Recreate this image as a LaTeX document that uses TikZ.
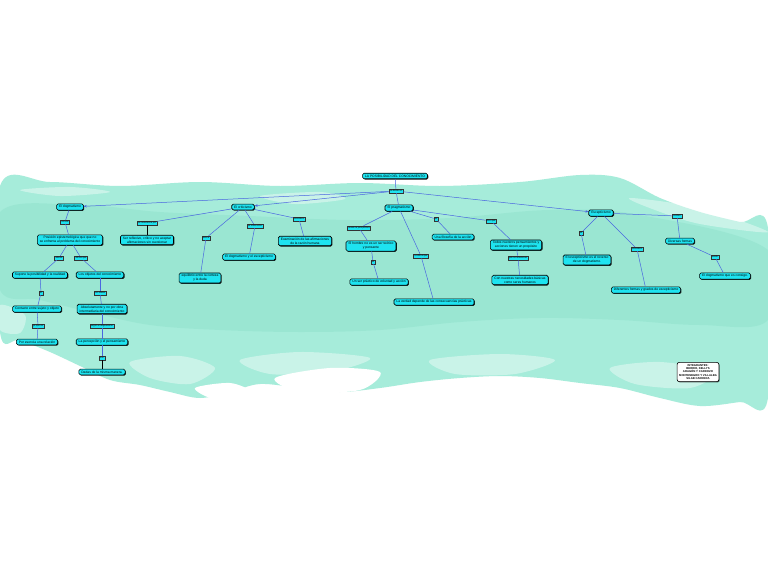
\documentclass[tikz,border=0pt]{standalone}
\usepackage{fontspec}
\setmainfont{Liberation Sans}
\usetikzlibrary{shadows,arrows.meta}
\definecolor{boxc}{HTML}{1EE3F0}
\definecolor{linec}{HTML}{4A66E0}
\definecolor{mint}{HTML}{A6ECDA}
\definecolor{mintd}{HTML}{93E3CE}
\tikzset{
 cbox/.style={draw=black, line width=0.6pt, fill=boxc, rounded corners=1.5pt, align=center,
   font=\fontsize{3.3}{3.8}\selectfont, inner xsep=2.5pt, inner ysep=1.6pt,
   drop shadow={shadow xshift=0.8pt, shadow yshift=-0.8pt, fill=black, opacity=0.85}},
 lbl/.style={draw=black!80, line width=0.25pt, fill=boxc, font=\fontsize{2.3}{2.6}\selectfont,
   inner xsep=1pt, inner ysep=1.1pt},
 conn/.style={draw=linec, line width=0.5pt},
 arr/.style={conn, -{Stealth[length=3pt,width=2.5pt]}},
 wpatch/.style={fill=white, opacity=0.4},
}
\begin{document}
\begin{tikzpicture}[x=1pt,y=-1pt]
\useasboundingbox (0,0) rectangle (768,578);
\fill[white] (0,0) rectangle (768,578);
% watercolor splash
\fill[mint] plot[smooth cycle, tension=0.55] coordinates {
 (0,186) (50,182) (120,186) (200,182) (280,186) (360,183) (440,186) (520,182) (580,175)
 (620,178) (660,198) (700,212) (740,222) (768,228) (768,398) (740,402) (700,406)
 (660,398) (620,388) (580,383) (540,378) (500,376) (460,378) (420,382) (380,388) (340,392)
 (300,388) (260,384) (230,392) (200,398) (170,392) (140,385) (110,380) (80,366) (50,352)
 (20,340) (0,332)};
\fill[mintd, opacity=0.6] plot[smooth cycle, tension=0.6] coordinates {
 (0,212) (80,205) (160,212) (250,216) (350,220) (450,218) (550,210) (640,215) (768,250)
 (768,320) (700,325) (620,320) (540,318) (460,322) (380,330) (300,332) (220,330) (150,325)
 (90,312) (40,300) (0,290)};
% white streaks
\fill[wpatch] plot[smooth cycle] coordinates {(20,190) (70,187) (110,192) (60,196)};
\fill[wpatch] plot[smooth cycle] coordinates {(260,196) (320,192) (345,199) (295,204)};
\fill[wpatch] plot[smooth cycle] coordinates {(630,198) (700,208) (768,232) (700,224) (655,210)};
\fill[wpatch] plot[smooth cycle] coordinates {(240,360) (300,352) (370,358) (330,372) (270,374)};
\fill[wpatch] plot[smooth cycle] coordinates {(130,362) (180,356) (215,368) (190,384) (150,378)};
\fill[wpatch] plot[smooth cycle] coordinates {(430,360) (500,354) (555,360) (515,374) (455,374)};
\fill[wpatch] plot[smooth cycle] coordinates {(610,368) (660,362) (715,372) (690,388) (635,384)};
\fill[wpatch] plot[smooth cycle] coordinates {(0,305) (25,315) (20,333) (0,330)};
\fill[white] plot[smooth cycle] coordinates {(275,378) (330,368) (380,372) (360,390) (300,392)};
\fill[white] plot[smooth cycle] coordinates {(195,388) (230,383) (250,392) (215,399)};

% root
\node[cbox] (root) at (395,176) {LA POSIBILIDAD DEL CONOCIMIENTO};
\node[lbl] (sdiv) at (396,191) {se divide en};
\node[cbox] (dog) at (70,207) {El dogmatismo};
\node[cbox] (crit) at (243,207) {El criticismo};
\node[cbox] (prag) at (399,208) {El pragmatismo};
\node[cbox] (esc) at (601,213) {Escepticismo};

% dogmatismo
\node[lbl] (l1) at (65,222) {es una};
\node[cbox] (d1) at (70,240) {Posición epistemológica que que no\\se enfrenta al problema del conocimiento};
\node[lbl] (l2) at (59,258) {admite};
\node[lbl] (l3) at (81,258) {afirma que};
\node[cbox] (d2) at (40,275) {Supone la posibilidad y la realidad};
\node[cbox] (d3) at (100,275) {Los objetos del conocimiento};
\node[lbl] (l4) at (41,293) {el};
\node[lbl] (l5) at (100,293) {son dados};
\node[cbox] (d4) at (37,309) {Contacto entre sujeto y objeto};
\node[cbox] (d5) at (102,309) {Absolutamente y no por obra\\intermediaria del conocimiento};
\node[lbl] (l6) at (38,326) {ya que es};
\node[lbl] (l7) at (102,326) {según el dogmatismo};
\node[cbox] (d6) at (37,342) {Por esencia una relación};
\node[cbox] (d7) at (102,342) {La percepción y el pensamiento};
\node[lbl] (l8) at (102,358) {son};
\node[cbox] (d8) at (102,372) {Dadas de la misma manera.};

% criticismo
\node[lbl] (c1l) at (147,223) {se caracteriza por};
\node[cbox] (c1) at (147,240) {Ser reflexivo, crítico y no aceptar\\afirmaciones sin cuestionar};
\node[lbl] (c2l) at (206,238) {busca};
\node[cbox] (c2) at (200,278) {equilibrio entre la certeza\\y la duda};
\node[lbl] (c3l) at (255,226) {se sitúa entre};
\node[cbox] (c3) at (249,257) {El dogmatismo y el escepticismo};
\node[lbl] (c4l) at (299,219) {considera};
\node[cbox] (c4) at (305,241) {Examinación de las afirmaciones\\de la razón humana};

% pragmatismo
\node[lbl] (p1l) at (359,228) {desde la perspectiva};
\node[cbox] (p1) at (371,246) {El hombre no es un ser teórico\\y pensante};
\node[lbl] (p2l) at (373,262) {es};
\node[cbox] (p2) at (379,282) {Un ser práctico de voluntad y acción};
\node[lbl] (p3l) at (421,256) {sostiene que};
\node[cbox] (p3) at (434,302) {La verdad depende de las consecuencias prácticas};
\node[lbl] (p4l) at (436,219) {es};
\node[cbox] (p4) at (453,237) {Una filosofía de la acción};
\node[lbl] (p5l) at (491,221) {dice que};
\node[cbox] (p5) at (516,245) {Todos nuestros pensamientos y\\acciones tienen un propósito};
\node[lbl] (p6l) at (518,258) {que se relacionan};
\node[cbox] (p6) at (520,280) {Con nuestras necesidades básicas\\como seres humanos};

% escepticismo
\node[lbl] (e1l) at (581,233) {es};
\node[cbox] (e1) at (587,260) {El escepticismo es el reverso\\de un dogmatismo.};
\node[lbl] (e2l) at (637,249) {considera};
\node[cbox] (e2) at (646,290) {Diferentes formas y grados de escepticismo};
\node[lbl] (e3l) at (677,216) {existen};
\node[cbox] (e3) at (680,241) {Diversas formas};
\node[lbl] (e4l) at (715,257) {existe};
\node[cbox] (e4) at (725,276) {El dogmatismo que es consigo.};

% integrantes
\node[draw=black, line width=0.6pt, fill=white, rounded corners=2pt, align=center,
  font=\bfseries\fontsize{2.8}{3.3}\selectfont, inner sep=2pt,
  drop shadow={shadow xshift=0.8pt, shadow yshift=-0.8pt, fill=black, opacity=0.6}] (integ) at (698,372)
  {INTEGRANTES:\\BERRIO, KELLYS\\ARAGÓN Y CARDOZO\\MONTENEGRO Y VILLALBA\\SILAB CARRERA};

% connectors
\draw[conn] (root) -- (sdiv);
\draw[arr] (sdiv) -- (dog);
\draw[arr] (sdiv) -- (crit);
\draw[conn] (sdiv) -- (prag);
\draw[arr] (sdiv) -- (esc);

\draw[conn] (dog) -- (l1); \draw[conn] (l1) -- (d1);
\draw[conn] (d1) -- (l2); \draw[conn] (l2) -- (d2);
\draw[conn] (d1) -- (l3); \draw[conn] (l3) -- (d3);
\draw[conn] (d2) -- (l4); \draw[conn] (l4) -- (d4);
\draw[conn] (d3) -- (l5); \draw[conn] (l5) -- (d5);
\draw[conn] (d4) -- (l6); \draw[conn] (l6) -- (d6);
\draw[conn] (d5) -- (l7); \draw[conn] (l7) -- (d7);
\draw[conn] (d7) -- (l8); \draw[black, line width=0.5pt] (l8) -- (d8);

\draw[conn] (crit) -- (c1l); \draw[black, line width=0.5pt] (c1l) -- (c1);
\draw[conn] (crit) -- (c2l); \draw[conn] (c2l) -- (c2);
\draw[conn] (crit) -- (c3l); \draw[conn] (c3l) -- (c3);
\draw[conn] (crit) -- (c4l); \draw[conn] (c4l) -- (c4);

\draw[conn] (prag) -- (p1l); \draw[conn] (p1l) -- (p1);
\draw[conn] (p1) -- (p2l); \draw[conn] (p2l) -- (p2);
\draw[conn] (prag) -- (p3l); \draw[conn] (p3l) -- (p3);
\draw[conn] (prag) -- (p4l); \draw[conn] (p4l) -- (p4);
\draw[conn] (prag) -- (p5l); \draw[conn] (p5l) -- (p5);
\draw[conn] (p5) -- (p6l); \draw[conn] (p6l) -- (p6);

\draw[conn] (esc) -- (e1l); \draw[conn] (e1l) -- (e1);
\draw[conn] (esc) -- (e2l); \draw[conn] (e2l) -- (e2);
\draw[conn] (esc) -- (e3l); \draw[conn] (e3l) -- (e3);
\draw[conn] (e3) -- (e4l); \draw[conn] (e4l) -- (e4);
\end{tikzpicture}
\end{document}
